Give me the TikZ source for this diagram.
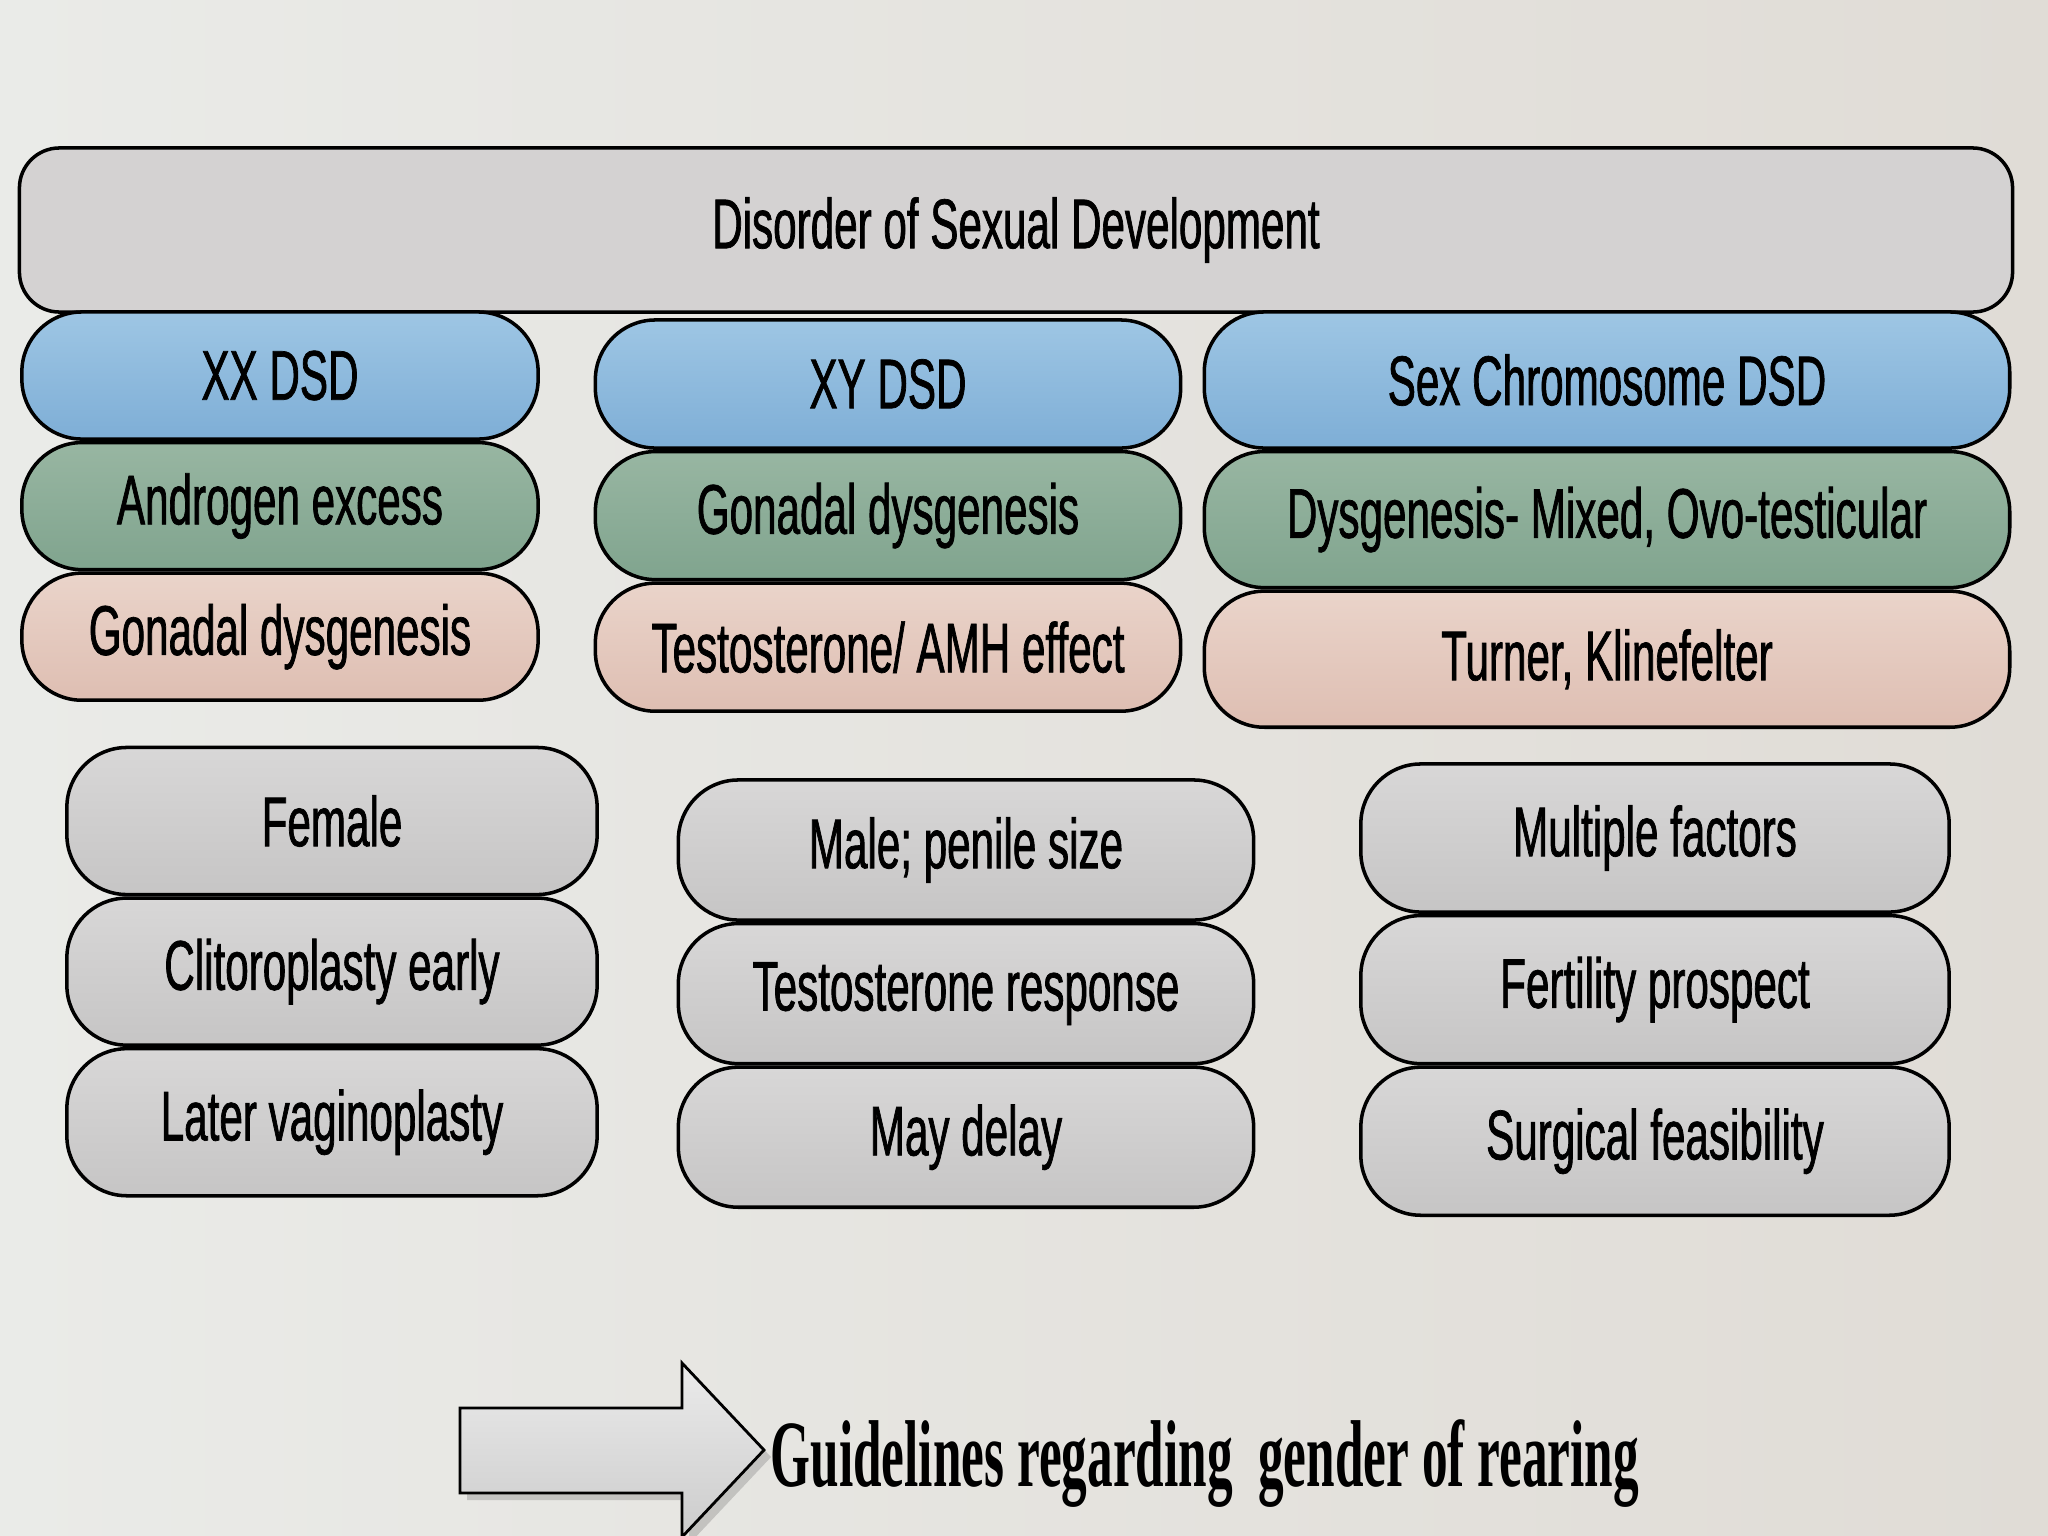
\documentclass[tikz,border=0pt]{standalone}
\usepackage{fontspec}
\setmainfont[FakeStretch=0.6, FakeBold=1]{Liberation Sans}
\newfontfamily\guidefont[FakeStretch=0.54]{Liberation Serif}
\usetikzlibrary{positioning, shadows}

\definecolor{pagelight}{RGB}{234,235,232}
\definecolor{pagedark}{RGB}{224,220,214}
\definecolor{topgray}{RGB}{212,210,210}
\definecolor{bluetop}{RGB}{158,198,228}
\definecolor{bluebot}{RGB}{126,174,214}
\definecolor{greentop}{RGB}{152,182,162}
\definecolor{greenbot}{RGB}{128,164,142}
\definecolor{peachtop}{RGB}{234,212,202}
\definecolor{peachbot}{RGB}{222,190,178}
\definecolor{graytop}{RGB}{216,215,215}
\definecolor{graybot}{RGB}{198,197,197}

\begin{document}
\begin{tikzpicture}[
        x=0.01cm, y=-0.01cm,
        font=\fontsize{20}{24}\selectfont,
        box/.style={draw=black, line width=1pt, rounded corners=0.6cm,
            inner sep=0pt, align=center},
        bluebox/.style={box, top color=bluetop, bottom color=bluebot},
        greenbox/.style={box, top color=greentop, bottom color=greenbot},
        peachbox/.style={box, top color=peachtop, bottom color=peachbot},
        graybox/.style={box, top color=graytop, bottom color=graybot},
        arrowbox/.style={draw=black, line width=0.8pt, top color=white!92!black,
            bottom color=white!80!black,
            drop shadow={shadow xshift=2pt, shadow yshift=-2pt, opacity=0.35}}
    ]

    % --- Page ---
    \useasboundingbox (0,0) rectangle (2048,1536);
    \fill[left color=pagelight, right color=pagedark] (0,0) rectangle (2048,1536);

    % --- Header ---
    \node[box, rounded corners=0.4cm, fill=topgray, minimum width=19.92cm,
        minimum height=1.64cm] (dsd) at (1016,230) {Disorder of Sexual Development};

    % --- XX column ---
    \node[bluebox, minimum width=5.16cm, minimum height=1.27cm]
        (xx) at (280,375.5) {XX DSD};
    \node[greenbox, minimum width=5.16cm, minimum height=1.27cm,
        below=0pt of xx] (xxa) {Androgen excess};
    \node[peachbox, minimum width=5.16cm, minimum height=1.27cm,
        below=0pt of xxa] (xxb) {Gonadal dysgenesis};

    % --- XY column ---
    \node[bluebox, minimum width=5.85cm, minimum height=1.28cm]
        (xy) at (888,384) {XY DSD};
    \node[greenbox, minimum width=5.85cm, minimum height=1.28cm,
        below=0pt of xy] (xya) {Gonadal dysgenesis};
    \node[peachbox, minimum width=5.85cm, minimum height=1.28cm,
        below=0pt of xya] (xyb) {Testosterone/ AMH effect};

    % --- Sex chromosome column ---
    \node[bluebox, minimum width=8.05cm, minimum height=1.36cm]
        (sc) at (1607,380) {Sex Chromosome DSD};
    \node[greenbox, minimum width=8.05cm, minimum height=1.36cm,
        below=0pt of sc] (sca) {Dysgenesis- Mixed, Ovo-testicular};
    \node[peachbox, minimum width=8.05cm, minimum height=1.36cm,
        below=0pt of sca] (scb) {Turner, Klinefelter};

    % --- Rearing: female ---
    \node[graybox, minimum width=5.3cm, minimum height=1.47cm]
        (fem) at (332,821) {Female};
    \node[graybox, minimum width=5.3cm, minimum height=1.47cm,
        below=0pt of fem] (fema) {Clitoroplasty early};
    \node[graybox, minimum width=5.3cm, minimum height=1.47cm,
        below=0pt of fema] (femb) {Later vaginoplasty};

    % --- Rearing: male ---
    \node[graybox, minimum width=5.75cm, minimum height=1.40cm]
        (mal) at (966,850) {Male; penile size};
    \node[graybox, minimum width=5.75cm, minimum height=1.40cm,
        below=0pt of mal] (mala) {Testosterone response};
    \node[graybox, minimum width=5.75cm, minimum height=1.40cm,
        below=0pt of mala] (malb) {May delay};

    % --- Rearing: sex chromosome ---
    \node[graybox, minimum width=5.88cm, minimum height=1.48cm]
        (mul) at (1655,838) {Multiple factors};
    \node[graybox, minimum width=5.88cm, minimum height=1.48cm,
        below=0pt of mul] (mula) {Fertility prospect};
    \node[graybox, minimum width=5.88cm, minimum height=1.48cm,
        below=0pt of mula] (mulb) {Surgical feasibility};

    % --- Guidelines ---
    \node[anchor=base west, inner sep=0pt,
        font=\guidefont\bfseries\fontsize{27}{30}\selectfont]
        (guide) at (770,1486) {Guidelines regarding\ \ gender of rearing};
    \draw[arrowbox] (460,1408) -- (682,1408) -- (682,1363) -- (764,1450)
        -- (682,1537) -- (682,1493) -- (460,1493) -- cycle;

\end{tikzpicture}
\end{document}
